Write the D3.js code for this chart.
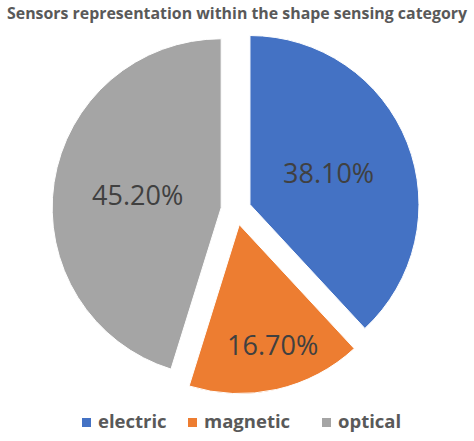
<!DOCTYPE html>
<html>
<head>
<meta charset="utf-8">
<script src="https://cdn.jsdelivr.net/npm/d3@7"></script>
<style>
  body { margin: 0; background: #fff; }
  svg { display: block; }
</style>
</head>
<body>
<svg id="chart" width="474" height="441"></svg>
<script>
// data
let categories = ["electric", "magnetic", "optical"];
let shares = [38.10, 16.70, 45.20];
let labels = ["38.10%", "16.70%", "45.20%"];

let width = 474, height = 441;
let svg = d3.select("#chart");

let color = d3.scaleOrdinal()
    .domain(categories)
    .range(["#4472C4", "#ED7D31", "#A5A5A5"]);

let cx = 236, cy = 210, radius = 169, explode = 15;
// label distance from slice apex, as a fraction of the radius
let labelFrac = {"electric": 0.5, "magnetic": 0.73, "optical": 0.5};

let datos = categories.map((c, i) => ({name: c, value: shares[i], label: labels[i]}));

let pie = d3.pie().sort(null).value(d => d.value);
let arc = d3.arc().innerRadius(0).outerRadius(radius);

let arcs = pie(datos);

svg.append("text")
    .attr("x", width / 2)
    .attr("y", 19)
    .attr("text-anchor", "middle")
    .attr("font-family", "'Open Sans', sans-serif")
    .attr("font-weight", "bold")
    .attr("font-size", "16px")
    .attr("textLength", 460)
    .attr("lengthAdjust", "spacingAndGlyphs")
    .attr("fill", "#595959")
    .text("Sensors representation within the shape sensing category");

let g = svg.append("g").attr("transform", `translate(${cx},${cy})`);

let slices = g.selectAll("g.slice")
    .data(arcs)
    .enter()
    .append("g")
    .attr("class", "slice")
    .attr("transform", d => {
        let mid = (d.startAngle + d.endAngle) / 2;
        return `translate(${Math.sin(mid) * explode},${-Math.cos(mid) * explode})`;
    });

slices.append("path")
    .attr("d", arc)
    .attr("fill", d => color(d.data.name))
    .attr("stroke", "#fff")
    .attr("stroke-width", 1);

slices.append("text")
    .attr("x", d => {
        let mid = (d.startAngle + d.endAngle) / 2;
        return Math.sin(mid) * radius * labelFrac[d.data.name] + (d.data.name == "magnetic" ? 6 : 0);
    })
    .attr("y", d => {
        let mid = (d.startAngle + d.endAngle) / 2;
        return -Math.cos(mid) * radius * labelFrac[d.data.name];
    })
    .attr("dy", "0.36em")
    .attr("text-anchor", "middle")
    .attr("font-family", "'Open Sans', sans-serif")
    .attr("font-size", "27px")
    .attr("fill", "#404040")
    .text(d => d.data.label);

// legend
let legendX = [82, 188, 322];
let legend = svg.selectAll("g.legend")
    .data(datos)
    .enter()
    .append("g")
    .attr("class", "legend")
    .attr("transform", (d, i) => `translate(${legendX[i]},418)`);

legend.append("rect")
    .attr("width", 9)
    .attr("height", 9)
    .attr("fill", d => color(d.name));

legend.append("text")
    .attr("x", 16)
    .attr("y", 10)
    .attr("font-family", "'Open Sans', sans-serif")
    .attr("font-weight", "bold")
    .attr("font-size", "18.5px")
    .attr("fill", "#595959")
    .text(d => d.name);
</script>
</body>
</html>
